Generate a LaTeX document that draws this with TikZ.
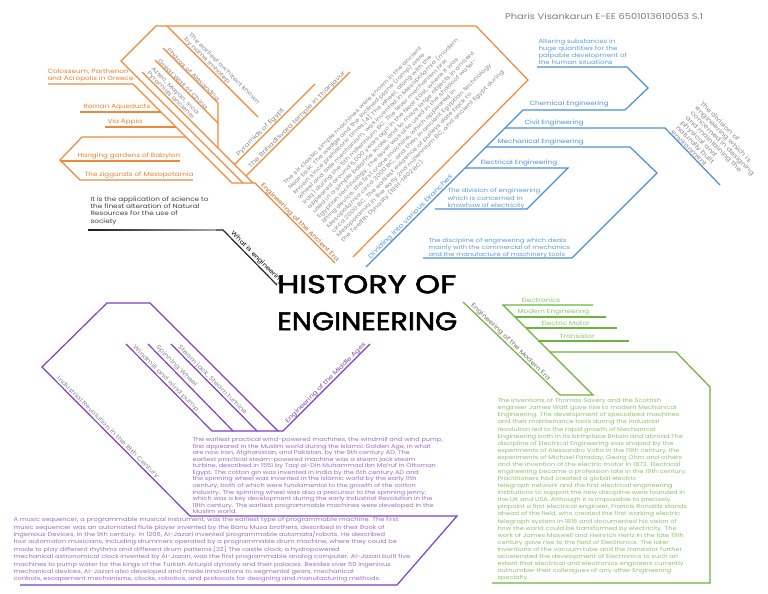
\documentclass[tikz,border=0pt]{standalone}
\usepackage{graphicx}
\usepackage{fontspec}
\setmainfont{Poppins}[FakeStretch=1.2]
\newfontfamily\titlefont{Poppins}[FakeBold=2]
\definecolor{org}{HTML}{F0883A}
\definecolor{orgtxt}{HTML}{E8802E}
\definecolor{blu}{HTML}{4A8FD8}
\definecolor{blutxt}{HTML}{5C9BE0}
\definecolor{grn}{HTML}{6DB33F}
\definecolor{grntxt}{HTML}{8CC46A}
\definecolor{pur}{HTML}{7E3FC6}
\definecolor{purtxt}{HTML}{9C6BD0}
\definecolor{gtxt}{HTML}{8A8A8A}
\begin{document}
\begin{tikzpicture}[x=1pt,y=-1pt,
  ol/.style={draw=org,line width=1.2pt,line join=miter},
  bl/.style={draw=blu,line width=1.2pt,line join=miter},
  gl/.style={draw=grn,line width=1.2pt,line join=miter},
  pl/.style={draw=pur,line width=1.2pt,line join=miter},
  kl/.style={draw=black!85,line width=1.2pt},
  tx/.style={inner sep=0.3pt,align=left,font=\fontsize{5.2}{6.8}\selectfont},
  lb/.style={inner sep=0.3pt,align=left,font=\fontsize{6}{7}\selectfont},
]
\useasboundingbox (0,0) rectangle (768,594);
\fill[white] (0,0) rectangle (768,594);

% header
\node[inner sep=0,anchor=west,text=gtxt!90!black,font=\fontsize{8.2}{10}\selectfont] (hdr) at (505,16) {Pharis Visankarun E-EE 6501013610053 S.1};

% title
\node[inner sep=0,anchor=north west] (t1) at (277,275) {\resizebox{179pt}{18pt}{\titlefont HISTORY OF}};
\node[inner sep=0,anchor=north west] (t2) at (277,312) {\resizebox{180pt}{18pt}{\titlefont ENGINEERING}};

% ---------------- What is engineering
\node[tx,anchor=north west,text=black!75,font=\fontsize{6.1}{7.4}\selectfont] (def) at (90,196) {It is the application of science to\\the finest alteration of Natural\\Resources for the use of\\society};
\coordinate (k1) at (88,230); \coordinate (k2) at (223,230); \coordinate (k3) at (277,285);
\shade[left color=black!90,right color=black!35] (88,229.4) rectangle (216,230.6);
\draw[kl] (216,230) -- (k2) -- (k3);
\node[lb,anchor=south west,rotate=-45,text=black] (what) at (229,235) {What is engineering};

% ---------------- Ancient era (orange)
\coordinate (a1) at (121,61); \coordinate (a2) at (156,26); \coordinate (a3) at (476,26);
\coordinate (a4) at (528,80); \coordinate (a5) at (353,257);
\draw[ol] (a5) -- (a4) -- (a3) -- (a2) -- (a1) -- (243,183);
\draw[ol] (167,26) -- (258,117);
\draw[ol] (163,48) -- (218,103) -- (218,148);
\draw[ol] (155,60) -- (218,123);
\draw[ol] (142,72) -- (253,183);
\draw[ol] (48,84) -- (133,84) -- (232,183) -- (255,183) -- (335,263);
\draw[ol] (80,112) -- (161,112);
\draw[ol] (105,127) -- (176,127);
\draw[ol] (186,137) -- (82,137) -- (60,160) -- (80,180) -- (193,180);
\draw[ol] (60,161) -- (180,161);
\draw[ol] (315,84) -- (234.5,164.5);
\draw[ol] (350,72) -- (246,176);

\node[lb,anchor=south west,text=orgtxt] (colo) at (47,82.5) {Colosseum, Parthenon\\and Acropolis in Greece};
\node[lb,anchor=south west,text=orgtxt] (aque) at (83,110.5) {Roman Aqueducts};
\node[lb,anchor=south west,text=orgtxt] (appia) at (107,125.5) {Via Appia};
\node[lb,anchor=south west,text=orgtxt] (baby) at (77,159.5) {Hanging gardens of Babylon};
\node[lb,anchor=south west,text=orgtxt] (zigg) at (84,178.5) {The ziggurats of Mesopotamia};

\node[lb,anchor=south west,rotate=-45,text=gtxt,font=\fontsize{5.8}{6.6}\selectfont] (imho) at (182,41) {The earliest architect known\\by name Imhotep};
\node[lb,anchor=south west,rotate=-45,text=gtxt,font=\fontsize{5.8}{6.6}\selectfont] (pharos) at (166,51) {Pharos of Alexandria};
\node[lb,anchor=south west,rotate=-45,text=gtxt,font=\fontsize{5.8}{6.6}\selectfont] (wall) at (157,62) {Great Wall of China};
\node[lb,anchor=south west,rotate=-45,text=gtxt,font=\fontsize{5.8}{6.2}\selectfont] (aztec) at (145,75) {Aztec, Mayan, Inca\\Pyramids ancients};
\node[lb,anchor=south west,rotate=45,text=gtxt] (pyr) at (240,158) {Pyramids of Egypt};
\node[lb,anchor=south west,rotate=45,text=gtxt] (brih) at (252,170) {The Brihadisvara temple in Thanjavur};
\node[lb,anchor=south west,rotate=-45,text=orgtxt!80!black] (anc) at (259,187) {Engineering of the Ancient Era};

\node[tx,anchor=north west,rotate=45,text=gtxt,font=\fontsize{5.5}{6.8}\selectfont] (ancp) at (282,182) {The six classic simple machines were known in the ancient\\Near East. The wedge and the inclined plane (ramp) were\\known since prehistoric times.[4] The wheel, along with the\\wheel and axle mechanism, was invented in Mesopotamia (modern\\Iraq) during the 5th millennium BC. The lever mechanism first\\appeared around 5,000 years ago in the Near East, where it was\\used in a simple balance scale, and to move large objects in ancient\\Egyptian technology. The lever was also used in the shadoof water-\\lifting device, the first crane machine, which appeared in\\Mesopotamia circa 3000 BC, and then in ancient Egyptian technology\\circa 2000 BC. The earliest evidence of pulleys date back to\\Mesopotamia in the early 2nd millennium BC, and ancient Egypt during\\the Twelfth Dynasty (1991-1802 BC).};

% ---------------- Branches (blue)
\coordinate (b0) at (366,267); \coordinate (b1) at (523,110);
\draw[bl] (b0) -- (b1) -- (625,110) -- (648,88) -- (627,67) -- (537,67);
\draw[bl] (505,128) -- (665,128) -- (720,185);
\draw[bl] (486,147) -- (630,147) -- (657,173) -- (572,258) -- (423,258);
\draw[bl] (465,168) -- (568,168) -- (527,209) -- (435,209);

\node[lb,anchor=south west,rotate=45,text=blutxt,font=\fontsize{6.4}{7}\selectfont] (divi) at (372,261) {Dividing into various branches};
\node[tx,anchor=north west,text=blutxt,font=\fontsize{5.8}{6.9}\selectfont] (alter) at (538,39) {Altering substances in\\huge quantities for the\\palpable development of\\the human situations};
\node[lb,anchor=south west,text=blu] (chem) at (529,108) {Chemical Engineering};
\node[lb,anchor=south west,text=blu] (civil) at (524,126.5) {Civil Engineering};
\node[lb,anchor=south west,text=blu] (mech) at (497,145.5) {Mechanical Engineering};
\node[lb,anchor=south west,text=blu] (elec) at (480,166.5) {Electrical Engineering};
\node[tx,anchor=north west,text=blutxt,font=\fontsize{5.8}{7.4}\selectfont] (eled) at (447,188) {The division of engineering\\which is concerned in\\knowhow of electricity};
\node[tx,anchor=north west,text=blutxt,font=\fontsize{5.6}{7}\selectfont] (mecd) at (428,238) {The discipline of engineering which deals\\mainly with the commercial of mechanics\\and the manufacture of machinery tools};
\node[tx,anchor=north west,rotate=-45,text=gtxt,font=\fontsize{6.2}{6.8}\selectfont] (civd) at (703,100) {The division of\\engineering which is\\concerned in designing\\and maintaining the\\physical and\\naturally built\\environment};

% ---------------- Modern era (green)
\draw[gl] (463,302) -- (560,395) -- (593,395) -- (503,305) -- (593,305);
\draw[gl] (515,317) -- (606,317);
\draw[gl] (526,328) -- (617,328);
\draw[gl] (538,341) -- (629,341);
\draw[gl] (550,352) -- (676,352) -- (710,387) -- (710,583) -- (492,583);
\node[lb,anchor=south west,rotate=-44,text=gtxt!80!black] (mod) at (469,307) {Engineering of the Modern Era};
\node[lb,anchor=south west,text=grntxt] (etr) at (521,303.5) {Electronics};
\node[lb,anchor=south west,text=grntxt] (meng) at (517,315.5) {Modern Engineering};
\node[lb,anchor=south west,text=grntxt] (emot) at (541,326.5) {Electric Motor};
\node[lb,anchor=south west,text=grntxt] (trans) at (559,339.5) {Transistor};
\node[tx,anchor=north west,text=grntxt,font=\fontsize{5.5}{7.08}\selectfont] (modp) at (497,398) {The inventions of Thomas Savery and the Scottish\\engineer James Watt gave rise to modern Mechanical\\Engineering. The development of specialized machines\\and their maintenance tools during the industrial\\revolution led to the rapid growth of Mechanical\\Engineering both in its birthplace Britain and abroad.The\\discipline of Electrical Engineering was shaped by the\\experiments of Alessandro Volta in the 19th century, the\\experiments of Michael Faraday, Georg Ohm and others\\and the invention of the electric motor in 1872. Electrical\\engineering became a profession late in the 19th century.\\Practitioners had created a global electric\\telegraph network and the first electrical engineering\\institutions to support the new discipline were founded in\\the UK and USA. Although it is impossible to precisely\\pinpoint a first electrical engineer, Francis Ronalds stands\\ahead of the field, who created the first working electric\\telegraph system in 1816 and documented his vision of\\how the world could be transformed by electricity. The\\work of James Maxwell and Heinrich Hertz in the late 19th\\century gave rise to the field of Electronics. The later\\inventions of the vacuum tube and the transistor further\\accelerated the development of Electronics to such an\\extent that electrical and electronics engineers currently\\outnumber their colleagues of any other Engineering\\specialty.};

% ---------------- Middle ages (purple)
\draw[pl] (150,303) -- (107,303) -- (42,367) -- (190,516) -- (457,516) -- (397,585) -- (20,585);
\draw[pl] (150,303) -- (278,431);
\draw[pl] (126,344) -- (212,431) -- (283,431) -- (370,344);
\draw[pl] (148,344) -- (233,431);
\draw[pl] (171,344) -- (257,431);
\node[lb,anchor=south west,rotate=-45,text=gtxt] (wind) at (131,349) {Windmill and wind pump};
\node[lb,anchor=south west,rotate=-45,text=gtxt] (spin) at (154,349) {Spinning Wheel};
\node[lb,anchor=south west,rotate=-45,text=gtxt] (steam) at (176,349) {Steam jack, Steam turbine};
\node[lb,anchor=south west,rotate=-45,text=gtxt] (indr) at (55,380) {Industrial Revolution in the 18th Century};
\node[lb,anchor=south west,rotate=45,text=purtxt!80!black] (mid) at (289,425) {Engineering of the Middle Ages};
\node[tx,anchor=north west,text=purtxt,font=\fontsize{5.45}{6.55}\selectfont] (midp1) at (192,437) {The earliest practical wind-powered machines, the windmill and wind pump,\\first appeared in the Muslim world during the Islamic Golden Age, in what\\are now Iran, Afghanistan, and Pakistan, by the 9th century AD. The\\earliest practical steam-powered machine was a steam  jack steam\\turbine, described in 1551 by Taqi al-Din Muhammad ibn Ma'ruf in Ottoman\\Egypt. The cotton gin was invented in India by the 6th century AD and\\the spinning wheel was invented in the Islamic world by the early 11th\\century, both of which were fundamental to the growth of the cotton\\industry. The spinning wheel was also a precursor to the spinning jenny,\\which was a key development during the early Industrial Revolution in the\\18th century. The earliest  programmable machines were developed in the\\Muslim world.};
\node[tx,anchor=north west,text=purtxt,font=\fontsize{5.55}{7.4}\selectfont] (midp2) at (13,517) {A music sequencer, a programmable musical instrument, was the earliest type of programmable machine. The first\\music sequencer was an automated flute player invented by the Banu Musa brothers, described in their Book of\\Ingenious Devices, in the 9th century. In 1206, Al-Jazari invented programmable automata/robots. He described\\four automaton musicians, including drummers operated by a programmable drum machine, where they could be\\made to play different rhythms and different drum patterns.[32] The castle clock, a hydropowered\\mechanical astronomical clock invented by Al-Jazari, was the first programmable analog computer. Al-Jazari built five\\machines to pump water for the kings of the Turkish Artuqid dynasty and their palaces. Besides over 50 ingenious\\mechanical devices, Al-Jazari also developed and made innovations to segmental gears, mechanical\\controls, escapement mechanisms, clocks, robotics, and protocols for designing and manufacturing methods.};
\end{tikzpicture}
\end{document}
